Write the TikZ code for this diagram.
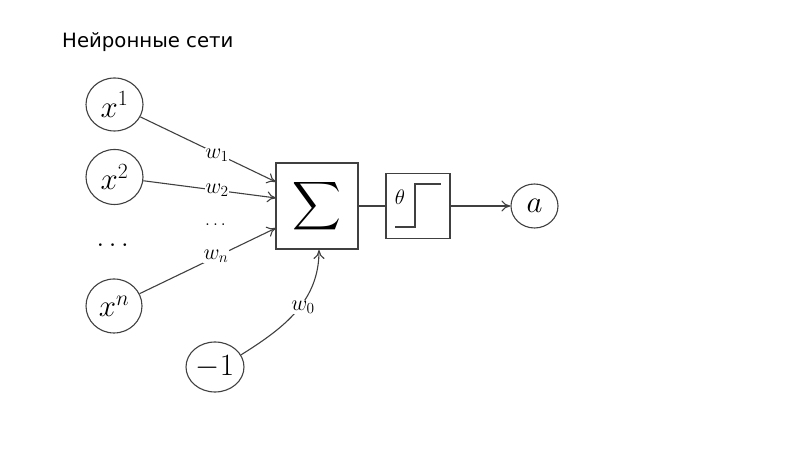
\RequirePackage{fix-cm}
\documentclass[tikz,border=0pt]{standalone}
\usepackage{amsmath}
\usepackage{fontspec}
\newfontfamily\titlefont{DejaVu Sans}
\usetikzlibrary{arrows.meta,shapes.geometric}
\begin{document}
\begin{tikzpicture}[x=1pt,y=1pt,
  ln/.style={draw=black!75, line width=1.1pt},
  neuron/.style={ellipse, draw=black!75, line width=1.1pt, inner sep=0pt, font=\fontsize{31}{36}\selectfont},
  wlab/.style={fill=white, inner sep=0.5pt, font=\fontsize{22}{26}\selectfont},
  arr/.style={ln, -{To[length=9pt,width=11pt]}},
  boxn/.style={rectangle, draw=black!75, line width=1.1pt, inner sep=0pt}]
\useasboundingbox (0,0) rectangle (800,449);
\node[anchor=base west, inner sep=0pt, font=\titlefont\fontsize{19.7}{23}\selectfont] (title) at (62,401) {Нейронные сети};

\node[neuron, minimum width=57pt, minimum height=53pt] (x1) at (114.5,344.5) {$x^1$};
\node[neuron, minimum width=57pt, minimum height=55pt] (x2) at (114.5,272) {$x^2$};
\node[neuron, minimum width=56pt, minimum height=54pt] (xn) at (114,143) {$x^n$};
\node[neuron, minimum width=58pt, minimum height=50pt] (m1) at (215,82) {$-1$};
\node[neuron, minimum width=47pt, minimum height=44pt] (a) at (534.5,243) {$a$};

\node[anchor=base, inner sep=0pt, font=\fontsize{28}{32}\selectfont] (ldots) at (115,202) {$\dots$};
\node[anchor=base, inner sep=0pt, font=\fontsize{18}{20}\selectfont] (wdots) at (217,223) {$\dots$};

\node[boxn, minimum width=82pt, minimum height=86pt, font=\fontsize{32}{38}\selectfont] (sig) at (317,243) {\scalebox{1.36}{$\displaystyle\sum$}};
\node[boxn, minimum width=64pt, minimum height=65pt] (th) at (418,243) {};
\node[inner sep=0pt, font=\fontsize{21}{24}\selectfont] (theta) at (400,252) {$\theta$};
\draw[ln] (395,222) -- (415,222) -- (415,265) -- (441,265);

\coordinate (s1) at (276,267);
\coordinate (s2) at (276,251);
\coordinate (sn) at (276,221);
\coordinate (s0) at (319,199);
\coordinate (m1out) at (m1.25);

\draw[arr] (x1) -- (s1);
\draw[arr] (x2) -- (s2);
\draw[arr] (xn) -- (sn);
\draw[arr] (m1out) to[out=32,in=-90] (s0);
\draw[ln] (sig.east) -- (th.west);
\draw[arr] (th.east) -- (a.west);

\node[wlab] (w1) at (217,294) {$w_1$};
\node[wlab] (w2) at (217,259) {$w_2$};
\node[wlab] (wn) at (216,193) {$w_n$};
\node[wlab] (w0) at (303,142) {$w_0$};
\end{tikzpicture}
\end{document}
